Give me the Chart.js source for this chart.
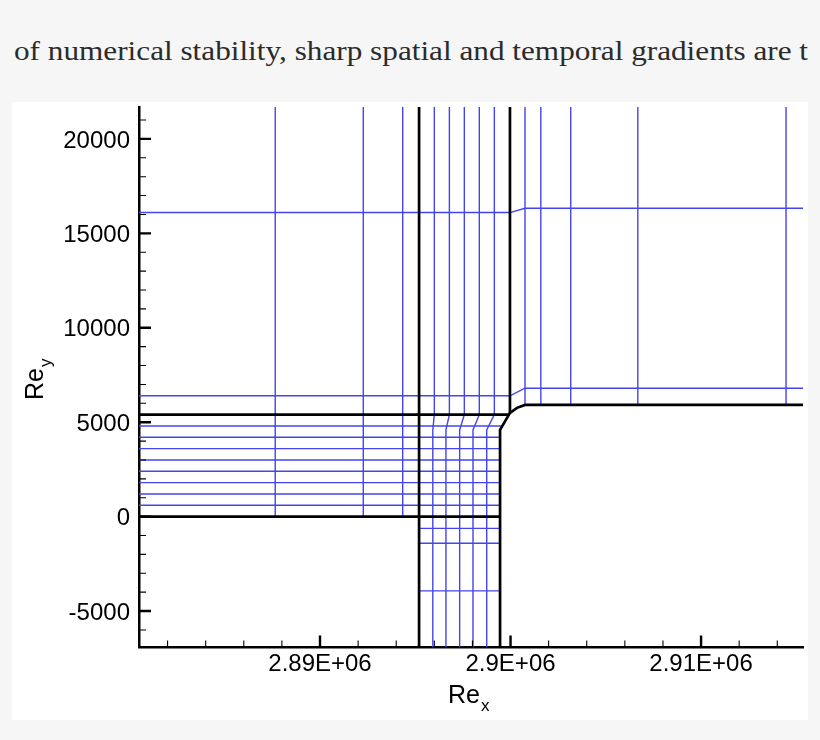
<!DOCTYPE html>
<html><head><meta charset="utf-8">
<script src="https://cdn.jsdelivr.net/npm/chart.js@4.4.1/dist/chart.umd.min.js"></script>
<style>
html,body{margin:0;padding:0;background:#f6f6f6;width:820px;height:740px;overflow:hidden;position:relative;}
#sentence{position:absolute;left:14px;top:37px;font-family:"Liberation Serif",serif;font-size:28px;line-height:28px;color:#2b2b2b;white-space:nowrap;transform-origin:0 0;}
#panel{position:absolute;left:12px;top:102px;width:796px;height:618px;background:#fff;}
#panel canvas{position:absolute;left:0;top:0;}
.ttl{position:absolute;font-family:"Liberation Sans",Arial,sans-serif;font-size:25px;line-height:25px;color:#000;white-space:nowrap;}
.ttl .sb{font-size:17px;position:relative;top:8px;margin-left:1px;}
#tx{left:448px;top:682px;}
#ty{left:22px;top:400px;transform-origin:0 0;transform:rotate(-90deg);}
</style></head>
<body>
<div id="sentence">of numerical stability, sharp spatial and temporal gradients are t</div>
<div id="panel"><canvas id="c" width="796" height="618"></canvas></div>
<div class="ttl" id="tx">Re<span class="sb">x</span></div>
<div class="ttl" id="ty">Re<span class="sb">y</span></div>
<script>
// axis ranges and ticks
const X_MIN = 2880500, X_MAX = 2915350, Y_MIN = -6930, Y_MAX = 21690;
const xTickValues = [2890000, 2900000, 2910000];
const xTickLabels = ['2.89E+06', '2.9E+06', '2.91E+06'];
const xMinorTicks = [2882000,2884000,2886000,2888000,2892000,2894000,2896000,2898000,2902000,2904000,2906000,2908000,2912000,2914000];
const yTickValues = [-5000, 0, 5000, 10000, 15000, 20000];
const yTickLabels = ['-5000', '0', '5000', '10000', '15000', '20000'];
const yMinorTicks = [-6000,-4000,-3000,-2000,-1000,1000,2000,3000,4000,6000,7000,8000,9000,11000,12000,13000,14000,16000,17000,18000,19000,21000];

// black block boundaries
const wallLeftX = 2895200;
const wallMidX = 2899970;
const lowerEdgeY = 0;
const upperEdgeY = 5400;
const stepX = [2899450, 2899450, 2899970, 2900340, 2900760, 2915350];
const stepY = [-6930, 4590, 5490, 5760, 5915, 5915];

// blue mesh lines
const farLeftColsX = [2887650, 2892270, 2894340];
const innerRowsY = [600, 1200, 1800, 2400, 3000, 3600, 4200, 4800];
const innerRowsEndX = [2899450, 2899450, 2899450, 2899450, 2899450, 2899450, 2899450, 2899570];
const wakeRowsY = [-620, -1410, -3930];
const channelColsBottomX = [2895920, 2896610, 2897330, 2898030, 2898750];
const channelColsTopX = [2896000, 2896790, 2897575, 2898360, 2899150];
const bendStartY = 4590, bendEndY = 5400;
const outerRowsLeftY = [6400, 16100];
const outerRowsRightY = [6800, 16330];
const rightColsX = [2900760, 2901590, 2903160, 2906680, 2914460];
const rightColsBaseY = 5915;

const BLUE = '#4444ec', BLACK = '#000';
const datasets = [];
function addLine(xs, ys, color, width, order) {
  datasets.push({
    data: xs.map((x, i) => ({x: x, y: ys[i]})),
    borderColor: color, borderWidth: width, pointRadius: 0, pointHoverRadius: 0,
    fill: false, tension: 0, showLine: true, order: order
  });
}
// black
addLine([wallLeftX, wallLeftX], [Y_MIN, Y_MAX], BLACK, 2.7, 0);
addLine([wallMidX, wallMidX], [stepY[2], Y_MAX], BLACK, 2.7, 0);
addLine([X_MIN, stepX[0]], [lowerEdgeY, lowerEdgeY], BLACK, 2.7, 0);
addLine([X_MIN, wallMidX], [upperEdgeY, upperEdgeY], BLACK, 2.7, 0);
addLine(stepX, stepY, BLACK, 2.7, 0);
// blue
farLeftColsX.forEach(x => addLine([x, x], [lowerEdgeY, Y_MAX], BLUE, 1.4, 1));
innerRowsY.forEach((y, i) => addLine([X_MIN, innerRowsEndX[i]], [y, y], BLUE, 1.4, 1));
wakeRowsY.forEach(y => addLine([wallLeftX, stepX[0]], [y, y], BLUE, 1.4, 1));
channelColsBottomX.forEach((bx, i) => addLine([bx, bx, channelColsTopX[i], channelColsTopX[i]], [Y_MIN, bendStartY, bendEndY, Y_MAX], BLUE, 1.4, 1));
outerRowsLeftY.forEach((y, i) => addLine([X_MIN, wallMidX, rightColsX[0], X_MAX], [y, y, outerRowsRightY[i], outerRowsRightY[i]], BLUE, 1.4, 1));
rightColsX.forEach(x => addLine([x, x], [rightColsBaseY, Y_MAX], BLUE, 1.4, 1));

const innerTicks = {
  id: 'innerTicks',
  afterDatasetsDraw(chart) {
    const ctx = chart.ctx, a = chart.chartArea, xs = chart.scales.x, ys = chart.scales.y;
    ctx.save();
    ctx.strokeStyle = '#000';
    function tk(vals, len, w, vertical) {
      ctx.lineWidth = w;
      ctx.beginPath();
      vals.forEach(v => {
        if (vertical) { const p = ys.getPixelForValue(v); ctx.moveTo(a.left, p); ctx.lineTo(a.left + len, p); }
        else { const p = xs.getPixelForValue(v); ctx.moveTo(p, a.bottom); ctx.lineTo(p, a.bottom - len); }
      });
      ctx.stroke();
    }
    tk(yTickValues, 12, 2.4, true);
    tk(yMinorTicks, 7, 1.1, true);
    tk(xTickValues, 12, 2.4, false);
    tk(xMinorTicks, 7, 1.1, false);
    ctx.restore();
  }
};

Chart.defaults.font.family = '"Liberation Sans", Arial, sans-serif';
Chart.defaults.color = '#000';

new Chart(document.getElementById('c'), {
  type: 'scatter',
  data: { datasets: datasets },
  options: {
    responsive: false, animation: false, devicePixelRatio: 1,
    layout: { autoPadding: false, padding: { left: 0, right: 5, top: 5, bottom: 0 } },
    plugins: { legend: { display: false }, tooltip: { enabled: false } },
    events: [],
    scales: {
      x: {
        type: 'linear', min: X_MIN, max: X_MAX,
        grid: { display: false, drawTicks: false },
        border: { display: true, color: '#000', width: 2.5 },
        ticks: { font: { size: 24 }, color: '#000', padding: 2, autoSkip: false, maxRotation: 0,
          callback: (v) => { const i = xTickValues.indexOf(v); return i >= 0 ? xTickLabels[i] : ''; } },
        afterBuildTicks: (s) => { s.ticks = xTickValues.map(v => ({value: v})); },
        afterFit: (s) => { s.height = 72.5; s.paddingLeft = 0; s.paddingRight = 0; }
      },
      y: {
        type: 'linear', min: Y_MIN, max: Y_MAX,
        grid: { display: false, drawTicks: false },
        border: { display: true, color: '#000', width: 2.5 },
        ticks: { font: { size: 24 }, color: '#000', padding: 9, labelOffset: 2, autoSkip: false,
          callback: (v) => { const i = yTickValues.indexOf(v); return i >= 0 ? yTickLabels[i] : ''; } },
        afterBuildTicks: (s) => { s.ticks = yTickValues.map(v => ({value: v})); },
        afterFit: (s) => { s.width = 127; s.paddingTop = 0; s.paddingBottom = 0; }
      }
    }
  },
  plugins: [innerTicks]
});

// stretch the sentence horizontally to its width in the reference
(function () {
  const el = document.getElementById('sentence');
  const w = el.getBoundingClientRect().width;
  el.style.transform = 'scaleX(' + (794 / w) + ')';
})();
</script>
</body></html>
